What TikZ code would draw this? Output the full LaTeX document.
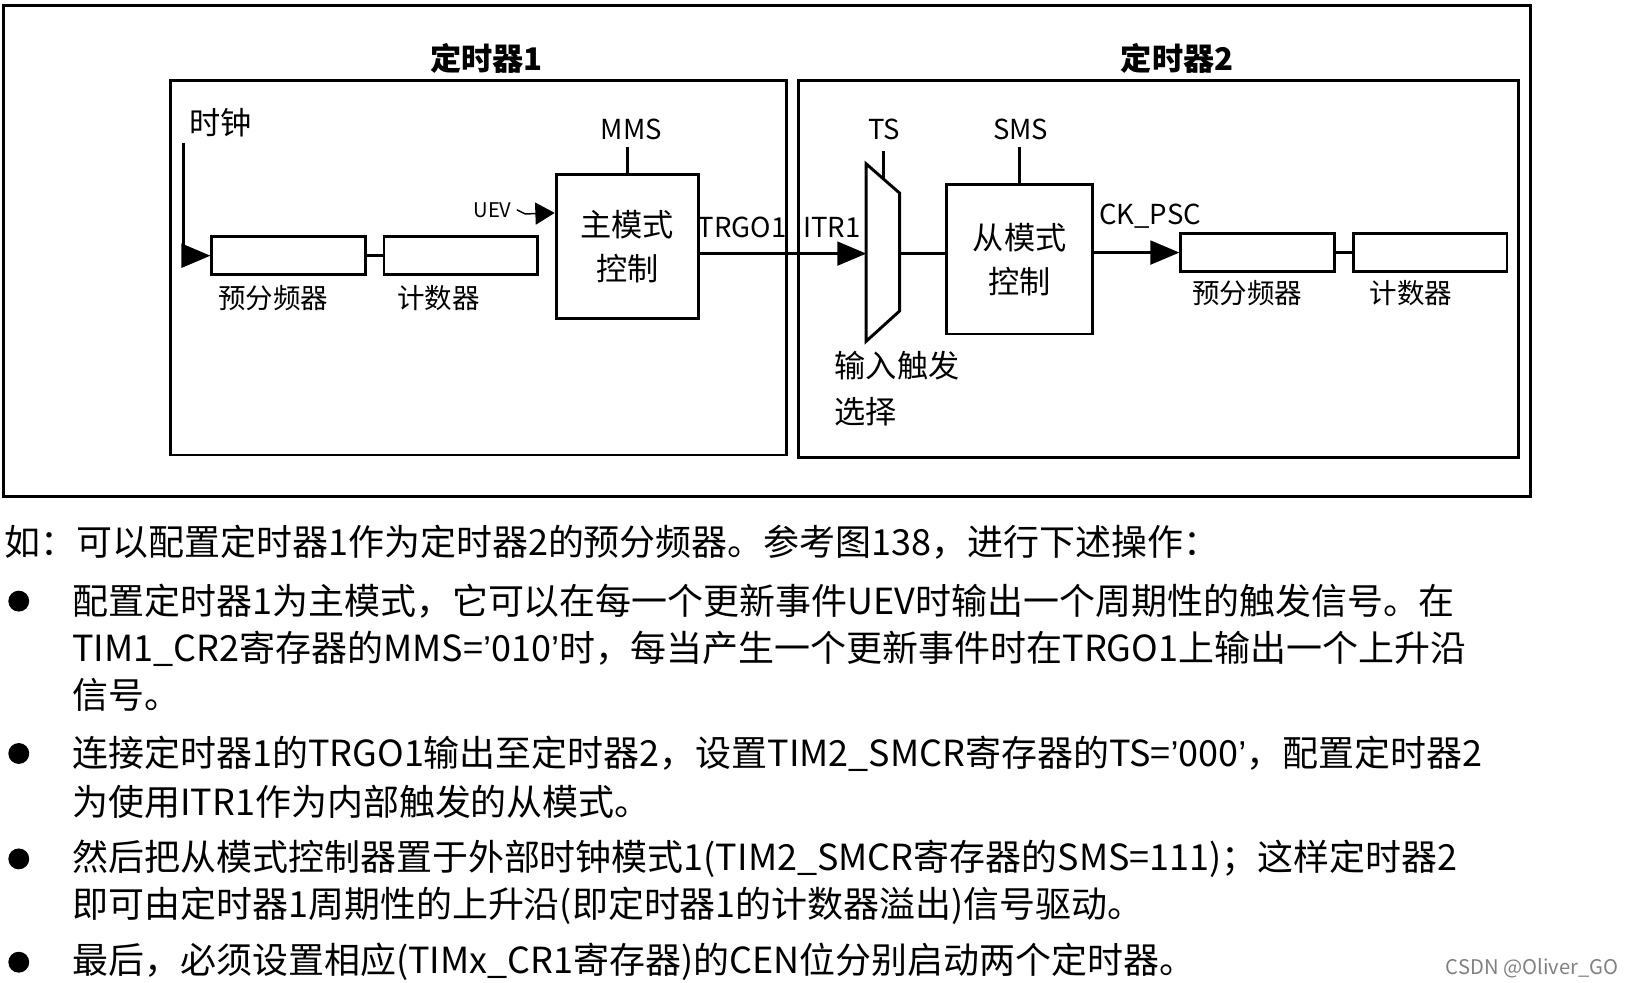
\documentclass[tikz,border=0pt]{standalone}
\usepackage{fontspec}
\setmainfont{Noto Sans CJK SC}
\newfontfamily\lat{Liberation Sans}
\usetikzlibrary{arrows,positioning,shapes}
\begin{document}
\begin{tikzpicture}[x=0.01cm,y=-0.01cm,
            reg/.style={draw,thick,rectangle,minimum width=1.47cm,minimum height=.36cm,inner sep=0},
            ctrl/.style={draw,thick,rectangle,align=center,font=\fontsize{8.5}{12}\selectfont},
            lab/.style={font=\fontsize{7.5}{9}\selectfont,inner sep=1pt},
            ttl/.style={font=\fontsize{8.5}{10}\selectfont\bfseries},
            txt/.style={anchor=west,font=\fontsize{9.8}{11}\selectfont,inner sep=0},
            dot/.style={circle,fill,inner sep=0,minimum size=.2cm},
            every path/.style={thick,>=latex}
          ]
          \useasboundingbox (0,0) rectangle (1560,941);
          %frames
          \draw (3,5) rectangle (1467,476);
          \draw (163,77) rectangle (754,436);
          \draw (765,77) rectangle (1455,438);
          \node[ttl] (t1) at (466,56) {定时器1};
          \node[ttl] (t2) at (1128,56) {定时器2};

          %timer 1
          \node[lab,font=\fontsize{8.5}{10}\selectfont] (clk) at (211,118) {时钟};
          \node[reg] (psc1) at (276.5,245) {};
          \node[reg] (cnt1) at (441.5,245) {};
          \node[lab] at (262,286) {预分频器};
          \node[lab] at (420,286) {计数器};
          \node[ctrl,minimum width=1.36cm,minimum height=1.38cm] (mst) at (601,236) {主模式\\控制};
          \node[lab] (mms) at (605,124) {MMS};
          \node[lab,font=\fontsize{5.5}{7}\selectfont] (uev) at (472,201) {UEV};
          \coordinate (c0) at (176,137);
          \path[draw,->,>=triangle 45] (c0) |- (psc1.west);
          \draw (psc1) -- (cnt1);
          \draw (mst.north) -- ++(0,-25);
          \draw[->,thin,>=triangle 60] (uev.east) -- ++(8,4) -- (mst.west |- 0,204);
          \node[lab] at (711,218) {TRGO1};

          %timer 2
          \coordinate (mlt) at (830,157);
          \coordinate (mlb) at (830,327);
          \coordinate (mrt) at (862,185);
          \coordinate (mrb) at (862,298);
          \draw (mlt) -- (mrt) -- (mrb) -- (mlb) -- cycle;
          \node[lab] (ts) at (847,124) {TS};
          \draw (ts.south) ++(0,6) -- (847,172);
          \node[lab] at (797,218) {ITR1};
          \draw[->,>=triangle 45] (mst.east |- 0,243) -- (830,243);
          \node[ctrl,minimum width=1.40cm,minimum height=1.43cm] (slv) at (977,248.5) {从模式\\控制};
          \node[lab] (sms) at (978,124) {SMS};
          \draw (slv.north) -- ++(0,-35);
          \draw (862,243) -- (slv.west |- 0,243);
          \node[reg] (psc2) at (1205,242) {};
          \node[reg] (cnt2) at (1370.5,242) {};
          \node[lab] at (1195,281) {预分频器};
          \node[lab] at (1352,281) {计数器};
          \node[lab] at (1102,207) {CK\_PSC};
          \draw[->,>=triangle 45] (slv.east |- 0,242) -- (psc2.west);
          \draw (psc2) -- (cnt2);
          \node[lab,align=left,anchor=west,font=\fontsize{8.5}{12.5}\selectfont] at (795,372) {输入触发\\选择};

          %text
          \node[txt] at (3,520) {如：可以配置定时器1作为定时器2的预分频器。参考图138，进行下述操作：};
          \node[dot] at (18,576) {};
          \node[txt] at (68,576) {配置定时器1为主模式，它可以在每一个更新事件UEV时输出一个周期性的触发信号。在};
          \node[txt] at (68,622) {TIM1\_CR2寄存器的MMS={\lat ’}010{\lat ’}时，每当产生一个更新事件时在TRGO1上输出一个上升沿};
          \node[txt] at (68,666) {信号。};
          \node[dot] at (18,722) {};
          \node[txt] at (68,722) {连接定时器1的TRGO1输出至定时器2，设置TIM2\_SMCR寄存器的TS={\lat ’}000{\lat ’}，配置定时器2};
          \node[txt] at (68,768) {为使用ITR1作为内部触发的从模式。};
          \node[dot] at (18,823) {};
          \node[txt] at (68,823) {然后把从模式控制器置于外部时钟模式1(TIM2\_SMCR寄存器的SMS=111)；这样定时器2};
          \node[txt] at (68,868) {即可由定时器1周期性的上升沿(即定时器1的计数器溢出)信号驱动。};
          \node[dot] at (18,922) {};
          \node[txt] at (68,922) {最后，必须设置相应(TIMx\_CR1寄存器)的CEN位分别启动两个定时器。};
          \node[txt,anchor=east,text=gray,font=\fontsize{5.5}{7}\selectfont] at (1552,928) {CSDN @Oliver\_GO};
      \end{tikzpicture}
\end{document}
